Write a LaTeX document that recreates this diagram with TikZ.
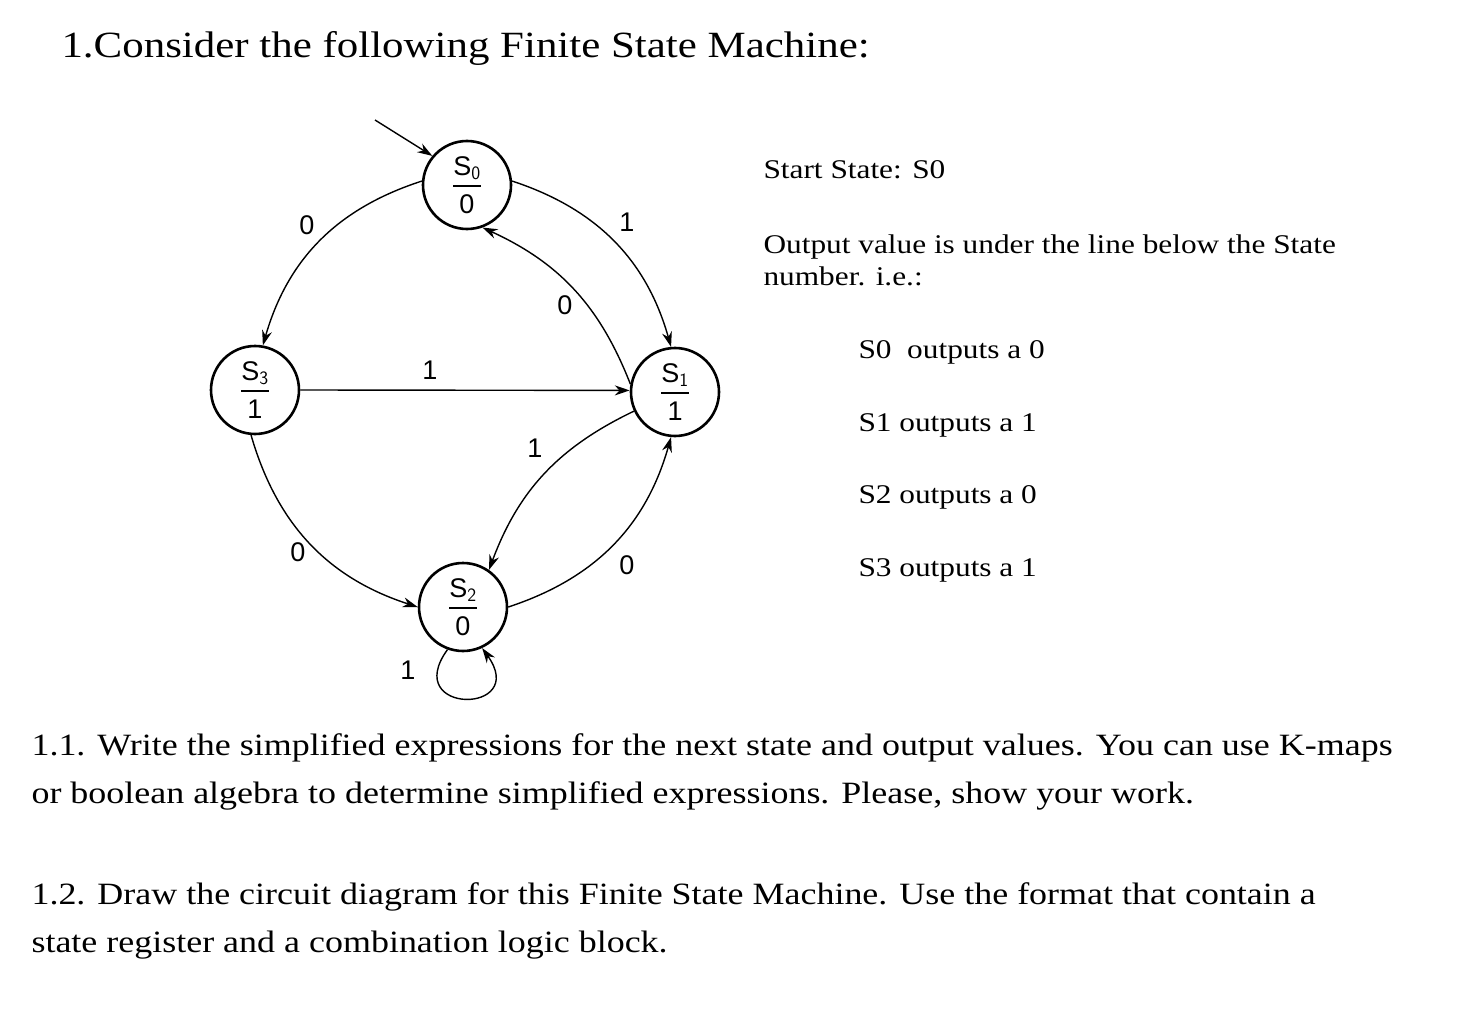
\documentclass[tikz,border=0pt]{standalone}
\usepackage{fontspec}
\setmainfont{Liberation Serif}[FakeStretch=1.16]
\newfontfamily\diag{Liberation Sans}
\usetikzlibrary{arrows.meta}
\begin{document}
\begin{tikzpicture}[x=1pt,y=-1pt,
  st/.style={circle,draw,line width=2.6pt,minimum size=88pt,inner sep=0pt},
  e/.style={line width=1.4pt,-{Stealth[length=15pt,width=10pt]}},
  lb/.style={font=\diag\fontsize{27}{27}\selectfont},
  tx/.style={anchor=west,font=\fontsize{27}{32}\selectfont},
  bt/.style={anchor=west,align=left,font=\fontsize{31}{48}\selectfont}]
\useasboundingbox (0,0) rectangle (1475,1019);
\newcommand{\stlab}[3]{%
  \node[lb] at ([yshift=17pt]#1.center) {S$_{\mathsf{\fontsize{22}{22}\selectfont #2}}$};
  \draw[line width=1.5pt] ([xshift=-14pt,yshift=-1pt]#1.center) -- ([xshift=14pt,yshift=-1pt]#1.center);
  \node[lb] at ([yshift=-19pt]#1.center) {#3};}
\node[st] (s0) at (467,185) {};
\node[st] (s1) at (675,392) {};
\node[st] (s3) at (255,390) {};
\node[st] (s2) at (463,607) {};
\stlab{s0}{0}{0}\stlab{s1}{1}{1}\stlab{s3}{3}{1}\stlab{s2}{2}{0}
\coordinate (st) at (375,120);
\draw[e] (st) -- (s0.140);
\draw[e] (s0.175) to[bend right=28] (s3.80);
\draw[e] (s0.5) to[bend left=28] (s1.95);
\draw[e] (s1.170) to[bend right=22] (s0.290);
\draw[e] (s3.0) -- (s1.178);
\draw[e] (s3.265) to[bend right=28] (s2.180);
\draw[e] (s2.0) to[bend right=28] (s1.265);
\draw[e] (s1.205) to[bend right=22] (s2.55);
\draw[e] (s2.250) .. controls (400,715) and (530,715) .. (s2.295);
\node[lb] (l1) at (307,225) {0};
\node[lb] (l2) at (627,222) {1};
\node[lb] (l3) at (565,305) {0};
\node[lb] (l4) at (430,370) {1};
\node[lb] (l5) at (298,552) {0};
\node[lb] (l6) at (627,565) {0};
\node[lb] (l7) at (535,448) {1};
\node[lb] (l8) at (408,670) {1};
\node[anchor=west,font=\fontsize{37}{40}\selectfont] (t) at (58,48) {1.Consider the following Finite State Machine:};
\node[tx] (a) at (760,170) {Start State: S0};
\node[tx,align=left] (b) at (760,260) {Output value is under the line below the State\\number. i.e.:};
\node[tx] (c0) at (855,352) {S0\ \ outputs a 0};
\node[tx] (c1) at (855,425) {S1 outputs a 1};
\node[tx] (c2) at (855,497) {S2 outputs a 0};
\node[tx] (c3) at (855,570) {S3 outputs a 1};
\node[bt] (q1) at (28,772) {1.1. Write the simplified expressions for the next state and output values. You can use K-maps\\or boolean algebra to determine simplified expressions. Please, show your work.};
\node[bt] (q2) at (28,921) {1.2. Draw the circuit diagram for this Finite State Machine. Use the format that contain a\\state register and a combination logic block.};
\end{tikzpicture}
\end{document}
